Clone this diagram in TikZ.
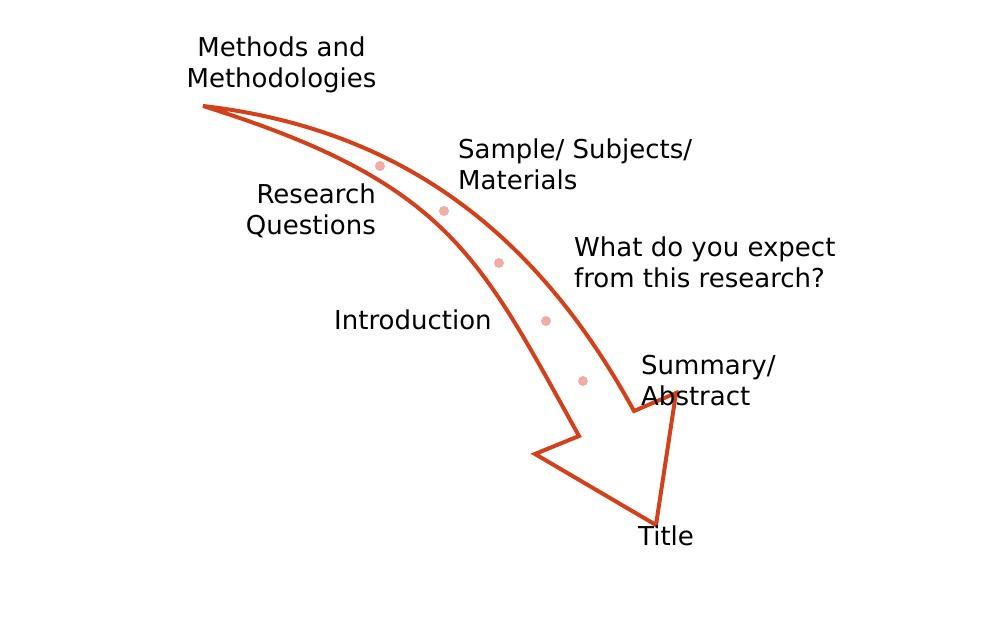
\documentclass[tikz,border=0pt]{standalone}
\usepackage{fontspec}
\setmainfont{DejaVu Sans}
\definecolor{arrowred}{RGB}{209,66,28}
\definecolor{dotpink}{RGB}{240,172,166}
\begin{document}
\begin{tikzpicture}[x=1pt,y=-1pt,
  lbl/.style={inner sep=0pt,font=\fontsize{26}{31.5}\selectfont},
  dot/.style={circle,fill=dotpink,inner sep=0pt,minimum size=10pt}]
\useasboundingbox (0,0) rectangle (991,617);
\coordinate (tail) at (203,106);
\coordinate (rin) at (634,411);
\coordinate (rbarb) at (676,393);
\coordinate (tip) at (656,525);
\coordinate (lbarb) at (535,454);
\coordinate (lin) at (579,436);
\draw[arrowred,line width=4pt,line join=miter]
  (tail) .. controls (411,130) and (542,243) .. (rin)
  -- (rbarb) -- (tip) -- (lbarb) -- (lin)
  .. controls (479,256) and (449,183) .. (tail) -- cycle;
\node[dot] (d1) at (380,166) {};
\node[dot] (d2) at (444,211) {};
\node[dot] (d3) at (499,263) {};
\node[dot] (d4) at (546,321) {};
\node[dot] (d5) at (583,381) {};
\node[lbl,align=center,anchor=base] (meth) at (281.5,88) {Methods and\\Methodologies};
\node[lbl,align=left,anchor=base west] (samp) at (458,190) {Sample/ Subjects/\\Materials};
\node[lbl,align=right,anchor=base east] (rq) at (376,235) {Research\\Questions};
\node[lbl,align=left,anchor=base west] (exp) at (574,288) {What do you expect\\from this research?};
\node[lbl,anchor=base west] (intro) at (334,330) {Introduction};
\node[lbl,align=left,anchor=base west] (summ) at (641,406) {Summary/\\Abstract};
\node[lbl,anchor=base west] (title) at (638,545) {Title};
\end{tikzpicture}
\end{document}
